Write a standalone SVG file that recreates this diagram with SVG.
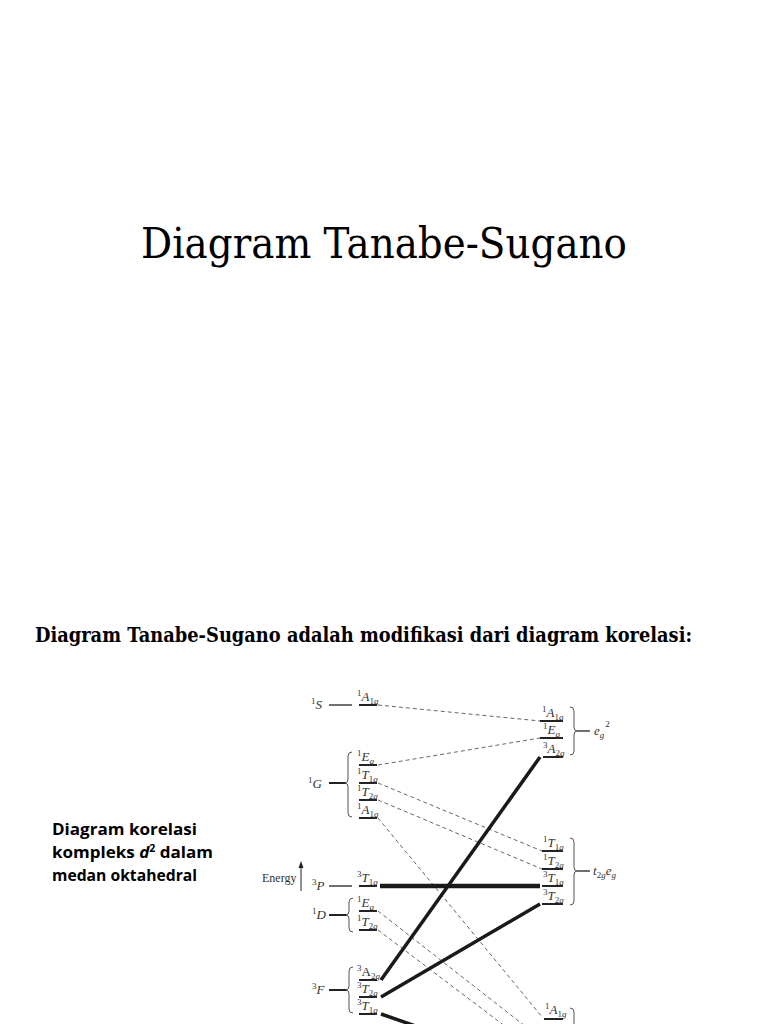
<svg xmlns="http://www.w3.org/2000/svg" width="768" height="1024" viewBox="0 0 768 1024">
<style>
.title{font-family:"DejaVu Serif","Liberation Serif",serif;font-size:43px;fill:#000}
.sub{font-family:"DejaVu Serif","Liberation Serif",serif;font-size:21px;font-weight:bold;fill:#000}
.side{font-family:"Open Sans",Lato,"Liberation Sans",sans-serif;font-size:16px;font-weight:bold;fill:#000}
.lbl{font-family:"Liberation Serif",serif;font-size:13px;fill:#333}
.it{font-style:italic}
.sm{font-size:9px}
.lv{stroke:#222;stroke-width:2;fill:none}
.tl{stroke:#222;stroke-width:1.3;fill:none}
.br{stroke:#555;stroke-width:1;fill:none}
.dash{stroke:#555;stroke-width:0.9;stroke-dasharray:4,3;fill:none}
.thick{stroke:#1a1a1a;stroke-width:3.5;fill:none}
</style>
<rect width="768" height="1024" fill="#fff"/>
<text class="title" x="141" y="258" textLength="486" lengthAdjust="spacingAndGlyphs">Diagram Tanabe-Sugano</text>
<text class="sub" x="35" y="642" textLength="657" lengthAdjust="spacingAndGlyphs">Diagram Tanabe-Sugano adalah modifikasi dari diagram korelasi:</text>
<g id="caption">
<text class="side" x="52" y="835" textLength="145" lengthAdjust="spacingAndGlyphs">Diagram korelasi</text>
<text class="side" x="52" y="858" textLength="161" lengthAdjust="spacingAndGlyphs">kompleks <tspan font-style="italic">d</tspan><tspan font-size="10" dy="-6">2</tspan><tspan dy="6"> dalam</tspan></text>
<text class="side" x="52" y="881" textLength="145" lengthAdjust="spacingAndGlyphs">medan oktahedral</text>
</g>
<g id="connectors">
<path class="dash" d="M378,705 L540,721"/>
<path class="dash" d="M378,765 L540,738"/>
<path class="dash" d="M378,783 L542,851"/>
<path class="dash" d="M378,800 L542,869"/>
<path class="dash" d="M378,818 L543,1018"/>
<path class="dash" d="M378,911 L530,1030"/>
<path class="dash" d="M378,930 L510,1030"/>
<path class="thick" d="M380,886 L540,886" style="stroke-width:4.5"/>
<path class="thick" d="M381,980 L540,757"/>
<path class="thick" d="M381,997 L540,904"/>
<path class="thick" d="M381,1014 L430,1031"/>
</g>
<g id="energy">
<text class="lbl" x="262" y="882" style="font-size:12px">Energy</text>
<path d="M301,891 L301,866" stroke="#222" stroke-width="1"/>
<path d="M298.5,868 L301,861 L303.5,868 Z" fill="#222"/>
</g>
<g id="term-1S">
<text class="lbl" x="311" y="709"><tspan class="sm" dy="-5">1</tspan><tspan class="it" dy="5">S</tspan></text>
<path class="tl" d="M329,705 L352,705"/>
<path class="lv" d="M359,705 L377,705"/>
<text class="lbl" x="357" y="701"><tspan class="sm" dy="-5">1</tspan><tspan class="it" dy="5">A</tspan><tspan class="sm" dy="3">1<tspan class="it">g</tspan></tspan></text>
</g>
<g id="term-1G">
<text class="lbl" x="308" y="788"><tspan class="sm" dy="-5">1</tspan><tspan class="it" dy="5">G</tspan></text>
<path class="lv" d="M329,783 L346,783"/>
<path class="br" d="M352,752 Q348,752 348,756 L348,779 Q348,783 345,783 Q348,783 348,787 L348,813 Q348,817 352,817"/>
<path class="lv" d="M359,765 L377,765"/>
<text class="lbl" x="357" y="761"><tspan class="sm" dy="-5">1</tspan><tspan class="it" dy="5">E</tspan><tspan class="sm it" dy="3">g</tspan></text>
<path class="lv" d="M359,783 L377,783"/>
<text class="lbl" x="357" y="779"><tspan class="sm" dy="-5">1</tspan><tspan class="it" dy="5">T</tspan><tspan class="sm" dy="3">1<tspan class="it">g</tspan></tspan></text>
<path class="lv" d="M359,800 L377,800"/>
<text class="lbl" x="357" y="796"><tspan class="sm" dy="-5">1</tspan><tspan class="it" dy="5">T</tspan><tspan class="sm" dy="3">2<tspan class="it">g</tspan></tspan></text>
<path class="lv" d="M359,818 L377,818"/>
<text class="lbl" x="357" y="814"><tspan class="sm" dy="-5">1</tspan><tspan class="it" dy="5">A</tspan><tspan class="sm" dy="3">1<tspan class="it">g</tspan></tspan></text>
</g>
<g id="term-3P">
<text class="lbl" x="312" y="890"><tspan class="sm" dy="-5">3</tspan><tspan class="it" dy="5">P</tspan></text>
<path class="tl" d="M329,886 L352,886"/>
<path class="lv" d="M359,886 L377,886"/>
<text class="lbl" x="357" y="882"><tspan class="sm" dy="-5">3</tspan><tspan class="it" dy="5">T</tspan><tspan class="sm" dy="3">1<tspan class="it">g</tspan></tspan></text>
</g>
<g id="term-1D">
<text class="lbl" x="312" y="919"><tspan class="sm" dy="-5">1</tspan><tspan class="it" dy="5">D</tspan></text>
<path class="lv" d="M329,915 L347,915"/>
<path class="br" d="M353,898 Q349,898 349,902 L349,911 Q349,915 346,915 Q349,915 349,919 L349,928 Q349,932 353,932"/>
<path class="lv" d="M359,911 L377,911"/>
<text class="lbl" x="357" y="907"><tspan class="sm" dy="-5">1</tspan><tspan class="it" dy="5">E</tspan><tspan class="sm it" dy="3">g</tspan></text>
<path class="lv" d="M359,930 L377,930"/>
<text class="lbl" x="357" y="926"><tspan class="sm" dy="-5">1</tspan><tspan class="it" dy="5">T</tspan><tspan class="sm" dy="3">2<tspan class="it">g</tspan></tspan></text>
</g>
<g id="term-3F">
<text class="lbl" x="312" y="994"><tspan class="sm" dy="-5">3</tspan><tspan class="it" dy="5">F</tspan></text>
<path class="lv" d="M329,990 L347,990"/>
<path class="br" d="M353,967 Q349,967 349,971 L349,986 Q349,990 346,990 Q349,990 349,994 L349,1009 Q349,1013 353,1013"/>
<path class="lv" d="M359,980 L377,980"/>
<text class="lbl" x="357" y="976"><tspan class="sm" dy="-5">3</tspan><tspan dy="5">A</tspan><tspan class="sm" dy="3">2<tspan class="it">g</tspan></tspan></text>
<path class="lv" d="M359,997 L377,997"/>
<text class="lbl" x="357" y="993"><tspan class="sm" dy="-5">3</tspan><tspan class="it" dy="5">T</tspan><tspan class="sm" dy="3">2<tspan class="it">g</tspan></tspan></text>
<path class="lv" d="M359,1014 L377,1014"/>
<text class="lbl" x="357" y="1010"><tspan class="sm" dy="-5">3</tspan><tspan class="it" dy="5">T</tspan><tspan class="sm" dy="3">1<tspan class="it">g</tspan></tspan></text>
</g>
<g id="config-eg2">
<path class="lv" d="M540,721 L563,721"/>
<text class="lbl" x="542" y="717"><tspan class="sm" dy="-5">1</tspan><tspan class="it" dy="5">A</tspan><tspan class="sm" dy="3">1<tspan class="it">g</tspan></tspan></text>
<path class="lv" d="M540,738 L563,738"/>
<text class="lbl" x="543" y="734"><tspan class="sm" dy="-5">1</tspan><tspan class="it" dy="5">E</tspan><tspan class="sm it" dy="3">g</tspan></text>
<path class="lv" d="M543,757 L563,757"/>
<text class="lbl" x="543" y="753"><tspan class="sm" dy="-5">3</tspan><tspan class="it" dy="5">A</tspan><tspan class="sm" dy="3">2<tspan class="it">g</tspan></tspan></text>
<path class="br" d="M570,707 Q574,707 574,711 L574,727 Q574,731 577,731 Q574,731 574,735 L574,751 Q574,755 570,755"/>
<path class="tl" d="M577,731 L590,731"/>
<text class="lbl" x="594" y="735"><tspan class="it">e</tspan><tspan class="sm it" dy="3">g</tspan><tspan class="sm" dx="1" dy="-11">2</tspan></text>
</g>
<g id="config-t2geg">
<path class="lv" d="M542,851 L563,851"/>
<text class="lbl" x="543" y="847"><tspan class="sm" dy="-5">1</tspan><tspan class="it" dy="5">T</tspan><tspan class="sm" dy="3">1<tspan class="it">g</tspan></tspan></text>
<path class="lv" d="M542,869 L563,869"/>
<text class="lbl" x="543" y="865"><tspan class="sm" dy="-5">1</tspan><tspan class="it" dy="5">T</tspan><tspan class="sm" dy="3">2<tspan class="it">g</tspan></tspan></text>
<path class="lv" d="M542,886 L563,886"/>
<text class="lbl" x="543" y="882"><tspan class="sm" dy="-5">3</tspan><tspan class="it" dy="5">T</tspan><tspan class="sm" dy="3">1<tspan class="it">g</tspan></tspan></text>
<path class="lv" d="M542,904 L563,904"/>
<text class="lbl" x="543" y="900"><tspan class="sm" dy="-5">3</tspan><tspan class="it" dy="5">T</tspan><tspan class="sm" dy="3">2<tspan class="it">g</tspan></tspan></text>
<path class="br" d="M570,838 Q574,838 574,842 L574,867 Q574,871 577,871 Q574,871 574,875 L574,901 Q574,905 570,905"/>
<path class="tl" d="M577,871 L590,871"/>
<text class="lbl" x="593" y="875"><tspan class="it">t</tspan><tspan class="sm" dy="3">2<tspan class="it">g</tspan></tspan><tspan class="it" dy="-3">e</tspan><tspan class="sm it" dy="3">g</tspan></text>
</g>
<g id="config-t2g2">
<path class="lv" d="M544,1019 L563,1019"/>
<text class="lbl" x="545" y="1014"><tspan class="sm" dy="-5">1</tspan><tspan class="it" dy="5">A</tspan><tspan class="sm" dy="3">1<tspan class="it">g</tspan></tspan></text>
<path class="br" d="M570,1008 Q574,1008 574,1012 L574,1030"/>
</g>
</svg>
